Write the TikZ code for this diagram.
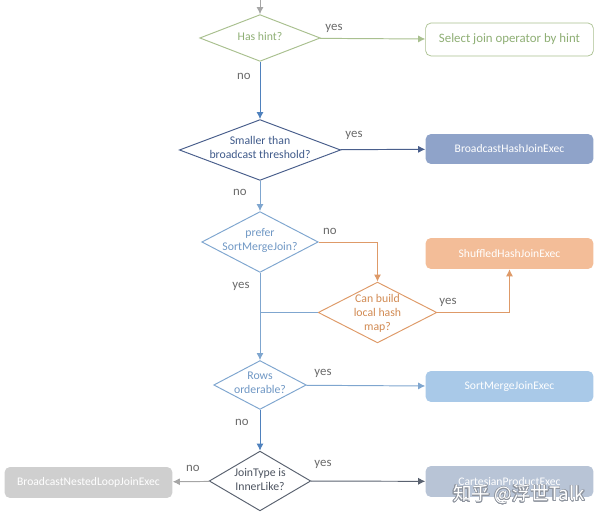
\documentclass[tikz,border=0pt]{standalone}
\usepackage{fontspec}
\setmainfont{Carlito}
\newfontfamily\cjk{Noto Sans CJK SC}
\usepackage{xcolor}
\usepackage{contour}
\contourlength{0.25pt}
\usetikzlibrary{shapes.geometric, arrows.meta}
\definecolor{hintgreen}{HTML}{8FAF75}
\definecolor{hintline}{HTML}{A9C08F}
\definecolor{navyline}{HTML}{4A5F8C}
\definecolor{navytext}{HTML}{3F5A8A}
\definecolor{navybox}{HTML}{8FA3C9}
\definecolor{midblue}{HTML}{4F81BD}
\definecolor{skyline}{HTML}{7FA6CF}
\definecolor{skytext}{HTML}{6F97C4}
\definecolor{skybox}{HTML}{A9C9E8}
\definecolor{orangeline}{HTML}{DE9A68}
\definecolor{orangetext}{HTML}{D18A52}
\definecolor{orangebox}{HTML}{F3BD98}
\definecolor{slatebox}{HTML}{B8C4D6}
\definecolor{darkline}{HTML}{5A6270}
\definecolor{greybox}{HTML}{CFCFCF}
\definecolor{greyline}{HTML}{A6A6A6}
\definecolor{labelgrey}{HTML}{6A6A6A}
\definecolor{markgrey}{HTML}{8E949E}
% text of a decision takes no room, so the diamond keeps its given size
\newcommand{\dtext}[2][-1.7pt]{\raisebox{#1}{\smash{\makebox[0pt]{\begin{tabular}{@{}c@{}}#2\end{tabular}}}}}
\tikzset{
    decision/.style={diamond, draw, line width=0.55pt, inner sep=0pt, font=\fontsize{6.7}{8}\selectfont},
    opbox/.style={rectangle, rounded corners=3pt, minimum width=95.5pt, inner sep=0pt, text=white, font=\fontsize{6.6}{8}\selectfont},
    flow/.style={line width=0.55pt, -{Latex[length=4pt,width=4pt]}},
    answer/.style={text=labelgrey, yshift=-0.6pt, font=\fontsize{7.3}{9}\selectfont}
}
\begin{document}
\begin{tikzpicture}[x=0.02cm, y=-0.02cm]
    \useasboundingbox (0, 0) rectangle (600, 519);
    % decisions
    \node[decision, color=hintline, text=hintgreen, minimum width=68.6pt, minimum height=26.6pt] (hint) at (260, 38) {\dtext[-3.7pt]{Has hint?}};
    \node[decision, color=navyline, text=navytext, minimum width=91.8pt, minimum height=34.6pt] (small) at (260, 150) {\dtext{Smaller than\\broadcast threshold?}};
    \node[decision, color=skyline, text=skytext, minimum width=66.3pt, minimum height=34.6pt] (prefer) at (260, 242) {\dtext{prefer\\SortMergeJoin?}};
    \node[decision, color=orangeline, text=orangetext, minimum width=67.5pt, minimum height=34.6pt] (build) at (377.5, 312.5) {\dtext[-4.5pt]{Can build\\local hash\\map?}};
    \node[decision, color=skyline, text=skytext, minimum width=52.7pt, minimum height=27.8pt] (rows) at (260, 385) {\dtext{Rows\\orderable?}};
    \node[decision, color=darkline, text=darkline!85!black, minimum width=57.8pt, minimum height=34pt] (inner) at (260, 481) {\dtext[-3.4pt]{JoinType is\\InnerLike?}};
    % operators
    \node[opbox, draw=hintline, fill=white, text=hintgreen, minimum height=18.7pt, font=\fontsize{7.3}{9}\selectfont] (select) at (509.5, 39.5) {Select join operator by hint};
    \node[opbox, fill=navybox, minimum height=17pt] (bhj) at (509.5, 149) {BroadcastHashJoinExec};
    \node[opbox, fill=orangebox, minimum height=17.6pt] (shj) at (509.5, 253.5) {ShuffledHashJoinExec};
    \node[opbox, fill=skybox, minimum height=17.6pt] (smj) at (509.5, 386.5) {SortMergeJoinExec};
    \node[opbox, fill=slatebox, minimum height=17.6pt] (cart) at (509.5, 481.5) {CartesianProductExec};
    \node[opbox, fill=greybox, minimum height=17.6pt] (bnlj) at (88.5, 482.5) {BroadcastNestedLoopJoinExec};
    % free ends
    \coordinate (start) at (260, 0);
    \coordinate (merge) at (260, 312.5);
    % connectors
    \draw[flow, greyline] (start) -- (hint);
    \draw[flow, hintline] (hint) -- (select);
    \draw[flow, midblue] (hint) -- (small);
    \draw[flow, navyline] (small) -- (bhj);
    \draw[flow, skyline] (small) -- (prefer);
    \draw[flow, orangeline] (prefer.east) -| (build.north);
    \draw[flow, orangeline] (build.east) -| (shj.south);
    \draw[flow, skyline] (prefer) -- (rows);
    \draw[line width=0.55pt, skyline] (build.west) -- (merge);
    \draw[flow, skyline] (rows) -- (smj);
    \draw[flow, midblue] (rows) -- (inner);
    \draw[flow, darkline] (inner) -- (cart);
    \draw[flow, greyline] (inner) -- (bnlj);
    % answers
    \node[answer] (yesa) at (334, 27) {yes};
    \node[answer] (noa) at (244, 75) {no};
    \node[answer] (yesb) at (354, 134) {yes};
    \node[answer] (nob) at (240, 191) {no};
    \node[answer] (noc) at (330, 230) {no};
    \node[answer] (yesc) at (241, 285) {yes};
    \node[answer] (yesd) at (448, 301) {yes};
    \node[answer] (yese) at (323, 372) {yes};
    \node[answer] (nod) at (242, 421) {no};
    \node[answer] (yesf) at (323, 463) {yes};
    \node[answer] (noe) at (193, 467) {no};
    % watermark
    \node[text=white, font=\cjk\fontsize{10.6}{12}\selectfont] (mark) at (519, 495) {\contour{markgrey}{知乎 @浮世Talk}};
\end{tikzpicture}
\end{document}
